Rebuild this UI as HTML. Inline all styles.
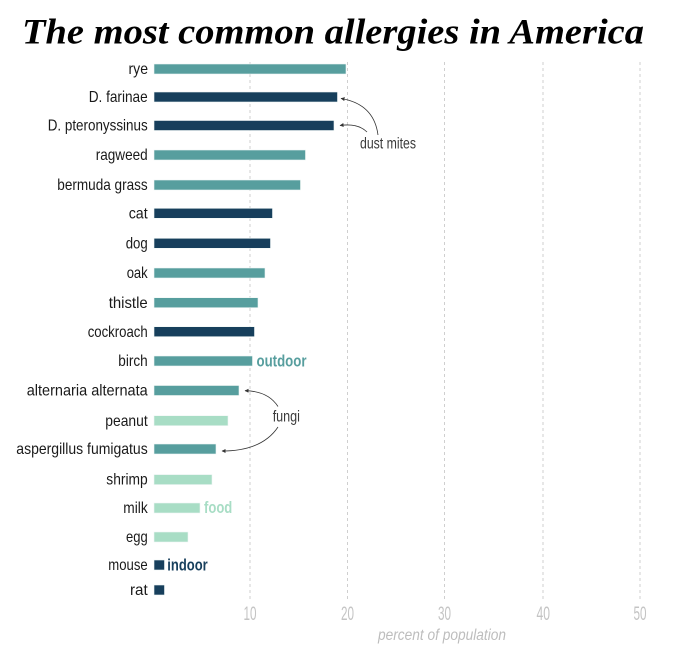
<!DOCTYPE html>
<html>
<head>
<meta charset="utf-8">
<style>
  html, body { margin:0; padding:0; background:#fff; }
  svg { display:block; }
  .lbl { font-family:"Liberation Sans Narrow","Liberation Sans",sans-serif; font-size:16px; fill:#1a1a1a; }
  .tick { font-family:"Liberation Sans Narrow","Liberation Sans",sans-serif; font-size:19px; fill:#c4c4c4; }
  .ann { font-family:"Liberation Sans Narrow","Liberation Sans",sans-serif; font-size:15.5px; fill:#3a3a3a; }
  .cat { font-family:"Liberation Sans Narrow","Liberation Sans",sans-serif; font-size:17px; font-weight:bold; }
</style>
</head>
<body>
<svg width="676" height="660" viewBox="0 0 676 660" xmlns="http://www.w3.org/2000/svg">
  <defs>
    <marker id="ah" viewBox="0 0 10 10" refX="9" refY="5" markerWidth="5" markerHeight="5" orient="auto">
      <path d="M0,0 L10,5 L0,10 z" fill="#333"/>
    </marker>
  </defs>

  <!-- Title -->
  <text x="22" y="43.5" textLength="622" lengthAdjust="spacingAndGlyphs"
        style="font-family:'Liberation Serif',serif;font-size:36px;font-weight:bold;font-style:italic;fill:#000;">The most common allergies in America</text>

  <!-- Gridlines -->
  <g stroke="#cfcfcf" stroke-width="1" stroke-dasharray="3,3">
    <line x1="250" y1="62" x2="250" y2="599"/>
    <line x1="347.5" y1="62" x2="347.5" y2="599"/>
    <line x1="444.5" y1="62" x2="444.5" y2="599"/>
    <line x1="543" y1="62" x2="543" y2="599"/>
    <line x1="640" y1="62" x2="640" y2="599"/>
  </g>

  <!-- Bars -->
  <g stroke="#eef6f4" stroke-width="0.6">
    <rect x="154" y="64" width="192" height="10" fill="#579E9E"/>
    <rect x="154" y="92" width="183.5" height="10" fill="#173F5C"/>
    <rect x="154" y="120.5" width="180" height="10" fill="#173F5C"/>
    <rect x="154" y="150" width="151.5" height="10" fill="#579E9E"/>
    <rect x="154" y="180" width="146.5" height="10" fill="#579E9E"/>
    <rect x="154" y="208.3" width="118.5" height="10" fill="#173F5C"/>
    <rect x="154" y="238.3" width="116.5" height="10" fill="#173F5C"/>
    <rect x="154" y="268" width="111" height="10" fill="#579E9E"/>
    <rect x="154" y="297.7" width="104" height="10" fill="#579E9E"/>
    <rect x="154" y="326.7" width="100.5" height="10" fill="#173F5C"/>
    <rect x="154" y="356" width="98.5" height="10" fill="#579E9E"/>
    <rect x="154" y="385.5" width="85" height="10" fill="#579E9E"/>
    <rect x="154" y="415.7" width="74" height="10" fill="#A8DDC5"/>
    <rect x="154" y="444" width="62" height="10" fill="#579E9E"/>
    <rect x="154" y="474.6" width="58" height="10" fill="#A8DDC5"/>
    <rect x="154" y="503" width="46" height="10" fill="#A8DDC5"/>
    <rect x="154" y="532" width="34" height="10" fill="#A8DDC5"/>
    <rect x="154" y="560" width="10.5" height="10" fill="#173F5C"/>
    <rect x="154" y="585" width="10.5" height="10" fill="#173F5C"/>
  </g>

  <!-- Labels -->
  <g class="lbl" text-anchor="start">
    <text x="128.5" y="73.8" textLength="19.5" lengthAdjust="spacingAndGlyphs">rye</text>
    <text x="88.7" y="102.1" textLength="59" lengthAdjust="spacingAndGlyphs">D. farinae</text>
    <text x="47.7" y="130.6" textLength="100" lengthAdjust="spacingAndGlyphs">D. pteronyssinus</text>
    <text x="95.7" y="160.1" textLength="52" lengthAdjust="spacingAndGlyphs">ragweed</text>
    <text x="57.3" y="190.1" textLength="90.4" lengthAdjust="spacingAndGlyphs">bermuda grass</text>
    <text x="128.7" y="218.4" textLength="19" lengthAdjust="spacingAndGlyphs">cat</text>
    <text x="125.7" y="248.4" textLength="22" lengthAdjust="spacingAndGlyphs">dog</text>
    <text x="126.7" y="278.1" textLength="21" lengthAdjust="spacingAndGlyphs">oak</text>
    <text x="108.7" y="307.8" textLength="39" lengthAdjust="spacingAndGlyphs">thistle</text>
    <text x="87.7" y="336.8" textLength="60" lengthAdjust="spacingAndGlyphs">cockroach</text>
    <text x="118.3" y="366.1" textLength="29.4" lengthAdjust="spacingAndGlyphs">birch</text>
    <text x="26.7" y="395.6" textLength="121" lengthAdjust="spacingAndGlyphs">alternaria alternata</text>
    <text x="105.3" y="425.8" textLength="42.4" lengthAdjust="spacingAndGlyphs">peanut</text>
    <text x="16.3" y="454.1" textLength="131.4" lengthAdjust="spacingAndGlyphs">aspergillus fumigatus</text>
    <text x="106.3" y="484.7" textLength="41.4" lengthAdjust="spacingAndGlyphs">shrimp</text>
    <text x="123.3" y="513.1" textLength="24.4" lengthAdjust="spacingAndGlyphs">milk</text>
    <text x="126" y="542.1" textLength="21.7" lengthAdjust="spacingAndGlyphs">egg</text>
    <text x="108.3" y="570.1" textLength="39.4" lengthAdjust="spacingAndGlyphs">mouse</text>
    <text x="130" y="595.1" textLength="17.7" lengthAdjust="spacingAndGlyphs">rat</text>
  </g>

  <!-- Category labels -->
  <text class="cat" x="256.5" y="366.3" textLength="50" lengthAdjust="spacingAndGlyphs" fill="#579E9E">outdoor</text>
  <text class="cat" x="204" y="512.8" textLength="28.3" lengthAdjust="spacingAndGlyphs" fill="#A8DDC5">food</text>
  <text class="cat" x="167.3" y="570.3" textLength="40.4" lengthAdjust="spacingAndGlyphs" fill="#173F5C">indoor</text>

  <!-- Annotations -->
  <text class="ann" x="360" y="148.5" textLength="56" lengthAdjust="spacingAndGlyphs">dust mites</text>
  <text class="ann" x="272.7" y="421.7" textLength="27.3" lengthAdjust="spacingAndGlyphs">fungi</text>
  <g fill="none" stroke="#333" stroke-width="0.8">
    <path d="M378,135 Q374,104 341,98.5" marker-end="url(#ah)"/>
    <path d="M367,132 Q358,123 340,125.5" marker-end="url(#ah)"/>
    <path d="M278,406.5 Q268,391 245,390.7" marker-end="url(#ah)"/>
    <path d="M278,427 Q262,451 222,451" marker-end="url(#ah)"/>
  </g>

  <!-- Ticks -->
  <g class="tick">
    <text x="243.5" y="620" textLength="13" lengthAdjust="spacingAndGlyphs">10</text>
    <text x="341" y="620" textLength="13" lengthAdjust="spacingAndGlyphs">20</text>
    <text x="438" y="620" textLength="13" lengthAdjust="spacingAndGlyphs">30</text>
    <text x="536.5" y="620" textLength="13.5" lengthAdjust="spacingAndGlyphs">40</text>
    <text x="633.5" y="620" textLength="13" lengthAdjust="spacingAndGlyphs">50</text>
  </g>
  <text x="378" y="640" textLength="128" lengthAdjust="spacingAndGlyphs"
        style="font-family:'Liberation Sans Narrow','Liberation Sans',sans-serif;font-size:16px;font-style:italic;fill:#bdbdbd;">percent of population</text>
</svg>
</body>
</html>
